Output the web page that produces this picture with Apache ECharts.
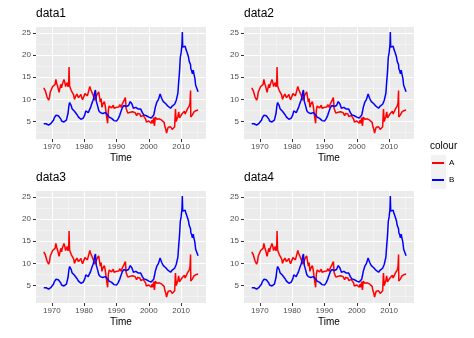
<!DOCTYPE html>
<html><head><meta charset="utf-8">
<script src="https://cdn.jsdelivr.net/npm/echarts@6/dist/echarts.min.js"></script>
<style>html,body{margin:0;padding:0;background:#fff}#c{width:474px;height:338px}</style>
</head><body><div id="c"></div>
<script>
const panels = ['data1', 'data2', 'data3', 'data4'];
const seriesNames = ['A', 'B'];
const xTicks = [1970, 1980, 1990, 2000, 2010];
const xMinor = [1965, 1975, 1985, 1995, 2005, 2015];
const yTicks = [5, 10, 15, 20, 25];
const yMinor = [2.5, 7.5, 12.5, 17.5, 22.5];

const dates = [
  1967.5, 1967.75,
  1968, 1968.25, 1968.5, 1968.75,
  1969, 1969.25, 1969.5, 1969.75,
  1970, 1970.25, 1970.5, 1970.75,
  1971, 1971.25, 1971.5, 1971.75,
  1972, 1972.25, 1972.5, 1972.75,
  1973, 1973.25, 1973.5, 1973.75,
  1974, 1974.25, 1974.5, 1974.75,
  1975, 1975.25, 1975.33, 1975.5, 1975.75,
  1976, 1976.25, 1976.5, 1976.75,
  1977, 1977.25, 1977.5, 1977.75,
  1978, 1978.25, 1978.5, 1978.75,
  1979, 1979.25, 1979.5, 1979.75,
  1980, 1980.25, 1980.5, 1980.75,
  1981, 1981.25, 1981.5, 1981.75,
  1982, 1982.25, 1982.5, 1982.75,
  1983, 1983.25, 1983.5, 1983.75,
  1984, 1984.25, 1984.5, 1984.75,
  1985, 1985.25, 1985.5, 1985.75,
  1986, 1986.25, 1986.5, 1986.75,
  1987, 1987.25, 1987.5, 1987.75,
  1988, 1988.25, 1988.5, 1988.75,
  1989, 1989.25, 1989.5, 1989.75,
  1990, 1990.25, 1990.5, 1990.75,
  1991, 1991.25, 1991.5, 1991.75,
  1992, 1992.25, 1992.5, 1992.75,
  1993, 1993.25, 1993.5, 1993.75,
  1994, 1994.25, 1994.5, 1994.75,
  1995, 1995.25, 1995.5, 1995.75,
  1996, 1996.25, 1996.5, 1996.75,
  1997, 1997.25, 1997.5, 1997.75,
  1998, 1998.25, 1998.5, 1998.75,
  1999, 1999.25, 1999.5, 1999.75,
  2000, 2000.25, 2000.5, 2000.75,
  2001, 2001.25, 2001.5, 2001.75,
  2002, 2002.25, 2002.5, 2002.75,
  2003, 2003.25, 2003.5, 2003.75,
  2004, 2004.25, 2004.5, 2004.75,
  2005, 2005.25, 2005.5, 2005.75,
  2006, 2006.25, 2006.5, 2006.75,
  2007, 2007.25, 2007.5, 2007.75,
  2008, 2008.25, 2008.5, 2008.75,
  2009, 2009.25, 2009.5, 2009.75,
  2010, 2010.25, 2010.375, 2010.5, 2010.75,
  2011, 2011.25, 2011.5, 2011.75,
  2012, 2012.25, 2012.5, 2012.75, 2012.92,
  2013, 2013.25, 2013.5, 2013.75,
  2014, 2014.25, 2014.5, 2014.75,
  2015, 2015.25
];

const A = [
  12.6, 12.4,
  11.9, 12.1, 10.6, 10.9,
  9.8, 10.3, 11.6, 11.6,
  12.0, 12.9, 13.3, 13.3,
  13.4, 14.5, 13.6, 13.1,
  12.3, 11.6, 12.0, 13.4,
  12.6, 13.4, 13.5, 14.5,
  13.9, 12.9, 12.6, 13.8,
  12.8, 14.3, 17.3, 13.0, 12.7,
  12.0, 11.8, 11.6, 11.0,
  10.0, 10.5, 10.8, 11.2,
  11.3, 10.4, 10.7, 10.5,
  11.1, 10.4, 9.9, 9.8,
  10.1, 11.3, 11.4, 11.4,
  10.8, 10.9, 12.2, 12.9,
  12.3, 12.5, 12.3, 11.0,
  10.9, 9.8, 9.5, 10.0,
  11.1, 11.2, 11.7, 11.3,
  9.4, 10.2, 8.2, 8.9,
  9.3, 9.5, 8.6, 8.4,
  8.6, 4.6, 7.6, 8.5,
  8.4, 8.3, 8.1, 8.4,
  8.7, 8.0, 7.8, 8.4,
  8.2, 8.6, 8.1, 8.3,
  8.8, 8.6, 8.2, 8.9,
  9.3, 9.6, 9.4, 10.4,
  7.9, 7.7, 6.9, 7.1,
  6.8, 7.1, 6.7, 7.4,
  7.2, 6.8, 6.9, 7.0,
  6.8, 6.3, 6.8, 6.6,
  6.4, 6.7, 6.1, 6.4,
  6.5, 6.4, 6.2, 6.0,
  5.6, 4.9, 4.8, 4.7,
  5.1, 4.7, 5.0, 4.6,
  5.3, 4.6, 5.9, 4.0,
  6.0, 5.9, 5.5, 5.7,
  5.5, 5.6, 6.0, 5.6,
  5.3, 5.2, 5.4, 4.8,
  3.8, 3.3, 2.4, 3.1,
  3.7, 3.5, 3.3, 3.8,
  3.6, 3.2, 3.4, 3.5,
  3.8, 7.8, 5.0, 5.6,
  6.2, 7.2, 5.8, 5.8,
  6.1, 6.7, 6.8, 6.8, 6.6,
  7.3, 6.7, 7.0, 6.8,
  7.9, 8.3, 8.5, 9.2, 12.0,
  6.0, 6.3, 6.5, 6.2,
  7.2, 7.4, 7.3, 7.5,
  7.6, 7.6
];

const B = [
  4.5, 4.8,
  4.3, 4.5, 4.2, 4.6,
  4.2, 4.5, 4.3, 4.6,
  4.5, 4.6, 5.3, 5.8,
  6.2, 6.4, 6.3, 6.5,
  6.3, 5.9, 6.0, 5.6,
  5.1, 5.0, 5.2, 4.9,
  5.0, 5.1, 5.3, 5.4,
  6.8, 8.4, 8.8, 9.3, 8.9,
  8.6, 7.9, 8.0, 7.8,
  7.3, 7.0, 6.9, 6.6,
  6.2, 6.0, 5.8, 5.7,
  5.5, 5.3, 5.6, 5.8,
  6.2, 6.6, 7.4, 7.6,
  7.3, 7.0, 7.1, 7.4,
  8.2, 8.8, 9.3, 9.8,
  10.4, 11.6, 12.1, 9.6,
  9.2, 8.3, 7.5, 7.3,
  7.0, 6.9, 6.9, 6.8,
  6.8, 7.0, 7.0, 6.8,
  6.7, 6.5, 6.3, 6.0,
  5.9, 6.0, 5.7, 5.6,
  5.3, 5.2, 5.0, 4.9,
  5.1, 5.4, 5.6, 6.0,
  6.4, 7.0, 7.4, 8.0,
  8.4, 8.6, 8.9, 8.6,
  8.4, 8.3, 8.2, 8.6,
  8.8, 9.5, 9.3, 9.0,
  8.5, 8.0, 8.3, 8.3,
  8.2, 8.3, 8.0, 7.8,
  8.0, 8.1, 7.8, 7.4,
  7.0, 6.9, 6.5, 6.6,
  6.4, 6.3, 6.3, 6.2,
  6.0, 5.9, 6.1, 5.8,
  5.9, 6.1, 6.4, 7.2,
  8.2, 8.8, 9.4, 9.6,
  10.0, 10.4, 11.2, 10.7,
  10.2, 10.5, 9.5, 9.6,
  9.4, 9.0, 8.8, 8.7,
  8.4, 8.2, 8.1, 8.0,
  8.3, 8.5, 8.3, 8.5,
  8.9, 9.2, 9.8, 10.2,
  11.4, 14.0, 16.2, 19.5,
  20.5, 22.2, 25.2, 21.8, 21.4,
  21.8, 22.0, 21.3, 20.8,
  20.6, 19.7, 18.6, 18.2, 17.8,
  17.0, 16.5, 15.8, 16.6,
  15.6, 14.8, 13.2, 12.8,
  12.9, 11.7
];

const colors = {A: '#ff0000', B: '#0000ff'};
const values = {A: A, B: B};
const FONT = '"Liberation Sans", Arial, sans-serif';

const gridPos = [
  {left: 36, top: 27}, {left: 244, top: 27},
  {left: 36, top: 191}, {left: 244, top: 191}
];
const X_MIN = 1965.1, X_MAX = 2017.7, Y_MIN = 1.05, Y_MAX = 26.35;

const grid = [], xAxis = [], yAxis = [], series = [], title = [];
panels.forEach((p, i) => {
  grid.push({left: gridPos[i].left, top: gridPos[i].top, width: 170, height: 112,
    show: true, backgroundColor: '#ebebeb', borderWidth: 0, containLabel: false});
  title.push({text: p, left: gridPos[i].left, top: gridPos[i].top - 19, padding: 0,
    textStyle: {fontSize: 12, fontWeight: 'normal', color: '#000', fontFamily: FONT}});
  xAxis.push({
    type: 'value', gridIndex: i, min: X_MIN, max: X_MAX, position: 'bottom',
    axisLine: {show: false},
    axisTick: {show: true, length: 3, customValues: xTicks, lineStyle: {color: '#333', width: 1}},
    axisLabel: {customValues: xTicks, fontSize: 8, color: '#4d4d4d', margin: 4, fontFamily: FONT,
      formatter: v => String(v)},
    splitLine: {show: true, lineStyle: {color: '#ffffff', width: 1}},
    name: 'Time', nameLocation: 'middle', nameGap: 14,
    nameTextStyle: {fontSize: 10, color: '#000', fontFamily: FONT}
  });
  xAxis.push({
    type: 'value', gridIndex: i, min: X_MIN, max: X_MAX, position: 'top',
    axisLine: {show: false}, axisLabel: {show: false},
    axisTick: {show: false, customValues: xMinor},
    splitLine: {show: true, lineStyle: {color: 'rgba(255,255,255,0.75)', width: 0.5}}
  });
  yAxis.push({
    type: 'value', gridIndex: i, min: Y_MIN, max: Y_MAX, position: 'left',
    axisLine: {show: false},
    axisTick: {show: true, length: 3, customValues: yTicks, lineStyle: {color: '#333', width: 1}},
    axisLabel: {customValues: yTicks, fontSize: 8, color: '#4d4d4d', margin: 5, fontFamily: FONT},
    splitLine: {show: true, lineStyle: {color: '#ffffff', width: 1}}
  });
  yAxis.push({
    type: 'value', gridIndex: i, min: Y_MIN, max: Y_MAX, position: 'right',
    axisLine: {show: false}, axisLabel: {show: false},
    axisTick: {show: false, customValues: yMinor},
    splitLine: {show: true, lineStyle: {color: 'rgba(255,255,255,0.75)', width: 0.5}}
  });
  seriesNames.forEach(n => {
    series.push({
      type: 'line', name: n, xAxisIndex: 2 * i, yAxisIndex: 2 * i,
      data: dates.map((d, k) => [d, values[n][k]]),
      symbol: 'none', showSymbol: false,
      lineStyle: {color: colors[n], width: 1.5},
      itemStyle: {color: colors[n]},
      emphasis: {disabled: true}
    });
  });
});
title.push({text: 'colour', left: 430, top: 141, padding: 0,
  textStyle: {fontSize: 10, fontWeight: 'normal', color: '#000', fontFamily: FONT}});

const chart = echarts.init(document.getElementById('c'), null, {renderer: 'canvas'});
chart.setOption({
  animation: false,
  backgroundColor: '#ffffff',
  title: title,
  grid: grid,
  xAxis: xAxis,
  yAxis: yAxis,
  legend: {
    data: seriesNames, orient: 'vertical', left: 432, top: 158, padding: 0,
    itemWidth: 12, itemHeight: 2, itemGap: 7, icon: 'rect', selectedMode: false,
    textStyle: {fontSize: 8, color: '#000', lineHeight: 10, fontFamily: FONT}
  },
  graphic: [{type: 'rect', z: -1, shape: {x: 431, y: 155, width: 15, height: 34},
    style: {fill: '#f2f2f2'}}],
  series: series
});
</script></body></html>
